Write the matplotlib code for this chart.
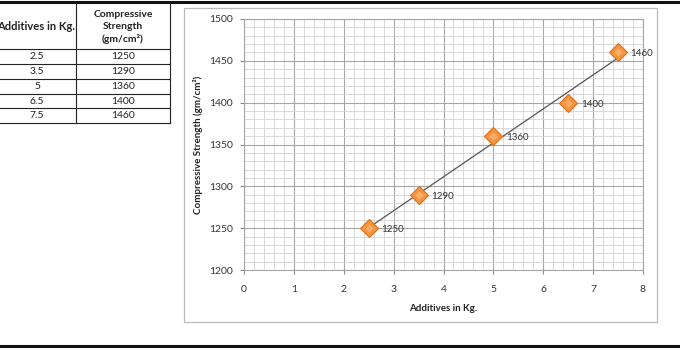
import numpy as np
import matplotlib
matplotlib.use("Agg")
import matplotlib.pyplot as plt
from matplotlib.lines import Line2D
from matplotlib.patches import Rectangle
from matplotlib.ticker import MultipleLocator

plt.rcParams['font.family'] = ['Lato', 'DejaVu Sans']

# ---- data ----
additives = [2.5, 3.5, 5, 6.5, 7.5]
strength = [1250, 1290, 1360, 1400, 1460]
col_headers = ["Additives in Kg.", "Compressive\nStrength\n(gm/cm\u00b2)"]
x_label = "Additives in Kg."
y_label = "Compressive Strength (gm/cm\u00b2)"

W, H = 680, 350
fig = plt.figure(figsize=(W / 100, H / 100), dpi=100)

def fx(px):
    return px / W

def fy(py):
    return 1 - py / H

def hline(y, x0, x1, lw=0.8, color='#222222'):
    fig.add_artist(Line2D([fx(x0), fx(x1)], [fy(y), fy(y)], lw=lw, color=color,
                          transform=fig.transFigure))

def vline(x, y0, y1, lw=0.8, color='#222222'):
    fig.add_artist(Line2D([fx(x), fx(x)], [fy(y0), fy(y1)], lw=lw, color=color,
                          transform=fig.transFigure))

# page frame lines
hline(2, 0, W, lw=2.2, color='#111111')
hline(346, 0, W, lw=2.2, color='#111111')

# ---- table ----
row_lines = [49, 64, 79, 94, 108, 123]
for y in row_lines:
    hline(y, 0, 170)
vline(76, 3, 123)
vline(170, 3, 123)
col_cx = [36, 123]
fig.text(fx(col_cx[0]), fy(26), col_headers[0], ha='center', va='center',
         fontsize=8, fontweight='bold', color='#222222')
fig.text(fx(col_cx[1]), fy(27), col_headers[1], ha='center', va='center',
         fontsize=7.5, fontweight='bold', color='#222222', linespacing=1.35)
for i, (a, s) in enumerate(zip(additives, strength)):
    yc = (row_lines[i] + row_lines[i + 1]) / 2
    fig.text(fx(37), fy(yc), f"{a:g}", ha='center', va='center', fontsize=7.5, color='#222222')
    fig.text(fx(col_cx[1]), fy(yc), f"{s}", ha='center', va='center', fontsize=7.5, color='#222222')

# ---- chart panel ----
fig.add_artist(Rectangle((fx(184), fy(322)), fx(657) - fx(184), fy(8) - fy(322),
                         transform=fig.transFigure, fill=False, edgecolor='#BBBBBB', lw=0.9))

ax = fig.add_axes([fx(244), fy(270), fx(643) - fx(244), fy(19) - fy(270)])
ax.set_xlim(0, 8)
ax.set_ylim(1200, 1500)
ax.xaxis.set_major_locator(MultipleLocator(1))
ax.xaxis.set_minor_locator(MultipleLocator(0.2))
ax.yaxis.set_major_locator(MultipleLocator(50))
ax.yaxis.set_minor_locator(MultipleLocator(10))
ax.grid(which='major', color='#A6A6A6', lw=0.8)
ax.grid(which='minor', color='#D4D4D4', lw=0.6)
ax.set_axisbelow(True)
for s in ax.spines.values():
    s.set_color('#A6A6A6')
    s.set_linewidth(0.8)
ax.tick_params(which='major', length=3, color='#888888', labelsize=7.5, labelcolor='#333333', pad=5)
ax.tick_params(which='minor', length=0)
ax.tick_params(axis='x', pad=8)

# trendline from linear fit of the data
coef = np.polyfit(additives, strength, 1)
xt = np.array([min(additives), max(additives)])
ax.plot(xt, np.polyval(coef, xt), color='#555555', lw=0.9, zorder=3)

ax.plot(additives, strength, linestyle='none', marker='D', markersize=9.5,
        markerfacecolor='#F59540', markeredgecolor='#D9701C', markeredgewidth=0.8, zorder=4)
ax.plot(additives, strength, linestyle='none', marker='D', markersize=4,
        markerfacecolor='#FBB477', markeredgecolor='none', alpha=0.8, zorder=5)

for a, s in zip(additives, strength):
    ax.annotate(f"{s}", (a, s), xytext=(9, -1), textcoords='offset points',
                ha='left', va='center', fontsize=7, color='#333333')

ax.set_xlabel(x_label, fontsize=7, fontweight='bold', color='#222222', labelpad=7)
ax.set_ylabel(y_label, fontsize=7, fontweight='bold', color='#222222', labelpad=4)

fig.savefig("out.png", dpi=100)
